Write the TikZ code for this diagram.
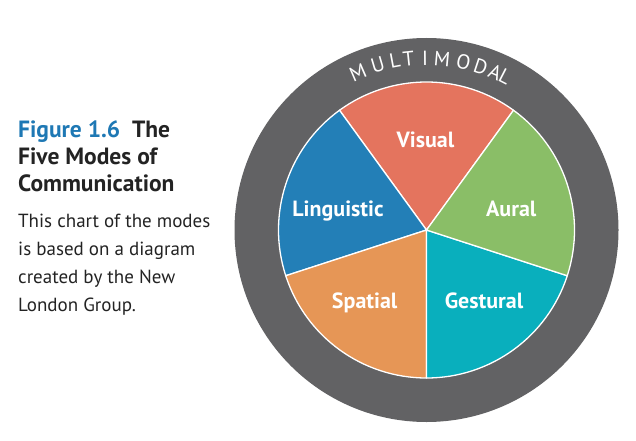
\documentclass[tikz,border=0pt]{standalone}
\usepackage{fontspec}
\setmainfont{PT Sans}
\usetikzlibrary{positioning,calc}
\definecolor{ringc}{RGB}{98,98,100}
\definecolor{visualc}{RGB}{228,116,94}
\definecolor{lingc}{RGB}{35,127,183}
\definecolor{auralc}{RGB}{138,190,103}
\definecolor{spatialc}{RGB}{230,150,86}
\definecolor{gestc}{RGB}{9,175,189}
\definecolor{figc}{RGB}{30,120,180}
\definecolor{textc}{RGB}{35,35,35}
\tikzset{
  slice/.style   = {draw=white, line width=1.3pt, line join=round},
  mode/.style    = {text=white, anchor=base, inner sep=0pt,
                    font=\fontsize{22}{22}\selectfont\bfseries},
  ringlbl/.style = {text=white, inner sep=0pt, font=\fontsize{20.5}{20.5}\selectfont},
  title/.style   = {text=textc, anchor=base west, align=left, inner sep=0pt,
                    font=\fontsize{23.5}{27}\selectfont\bfseries},
  caption/.style = {text=textc, anchor=base west, align=left, inner sep=0pt,
                    font=\fontsize{19}{28}\selectfont},
}

\begin{document}
\begin{tikzpicture}[x=1pt,y=1pt]
\useasboundingbox (0,0) rectangle (636,440);

\coordinate (ctr) at (426.5,210);

% outer ring
\fill[ringc] (ctr) circle (192);

% the five slices
\foreach \a/\c in {54/visualc,126/lingc,198/spatialc,270/gestc,342/auralc}
  \filldraw[slice, fill=\c] (ctr) -- ++(\a:148)
    arc[start angle=\a, end angle=\a+72, radius=148] -- cycle;

\node[mode] (visual)     at (425.5,292.7) {Visual};
\node[mode] (linguistic) at (338,223.3)   {Linguistic};
\node[mode] (aural)      at (511.3,223.3) {Aural};
\node[mode] (spatial)    at (364.7,131.7) {Spatial};
\node[mode] (gestural)   at (484,131.7)   {Gestural};

% ring label, one letter at a time
\foreach \l/\a [count=\i] in {M/113.5,U/106.5,L/100.6,T/96,I/90.5,M/84.8,O/77.6,D/71.6,A/66.4,L/62.8}
  \node[ringlbl, rotate=\a-90] (ml\i) at ($(ctr)+(\a:172)$) {\l};

% caption at the left (base = last line)
\node[title] (figtitle) at (18,248.3)
  {{\color{figc}Figure 1.6}\enspace The\\Five Modes of\\Communication};
\node[caption] (figtext) at (18,128.3)
  {This chart of the modes\\is based on a diagram\\created by the New\\London Group.};

\end{tikzpicture}
\end{document}
